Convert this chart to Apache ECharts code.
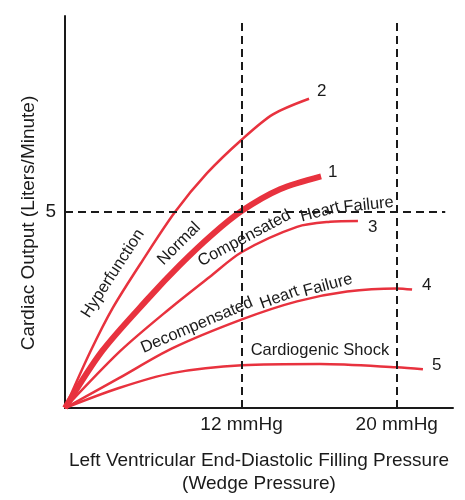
<!DOCTYPE html>
<html>
<head>
<meta charset="utf-8">
<title>Cardiac function curves</title>
<script src="https://cdn.jsdelivr.net/npm/echarts@6/dist/echarts.min.js"></script>
<style>
html, body { margin: 0; padding: 0; background: #fff; }
#chart { width: 465px; height: 500px; }
</style>
</head>
<body>
<div id="chart"></div>
<script>
// values: wedge pressure (mmHg) vs cardiac output (L/min)
const normalP = [2.9, 4.81, 7.18, 8.83, 10.48, 12.02, 13.98, 16.1];
const normalCO = [0, 1.45, 2.79, 3.65, 4.42, 5.03, 5.58, 5.91];

const hyperP = [2.9, 4.19, 5.37, 6.92, 8.57, 10.22, 12.02, 13.62, 15.48];
const hyperCO = [0, 1.42, 2.56, 3.78, 5.0, 5.99, 6.85, 7.49, 7.89];

const compP = [2.9, 5.74, 8.31, 10.37, 12.02, 14.86, 16.56, 18.0];
const compCO = [0, 1.45, 2.54, 3.35, 3.98, 4.62, 4.75, 4.77];

const decompP = [2.9, 5.68, 8.42, 12.02, 14.86, 17.44, 20.0, 20.79];
const decompCO = [0, 0.76, 1.52, 2.26, 2.72, 2.97, 3.05, 3.02];

const shockP = [2.9, 5.68, 8.42, 12.02, 16.04, 20.0, 21.35];
const shockCO = [0, 0.51, 0.89, 1.09, 1.12, 1.04, 0.99];

const pressureTicks = [12, 20];
const outputTicks = [5];
const curveNumbers = ['1', '2', '3', '4', '5'];

// words written along the curves (anchor in data units)
const labelWords = ['Hyperfunction', 'Normal', 'Compensated', 'Heart', 'Failure', 'Decompensated', 'Heart', 'Failure', 'Cardiogenic Shock'];
const labelP = [5.37, 8.78, 12.15, 16.05, 18.55, 9.7, 13.95, 16.45, 16.04];
const labelCO = [3.43, 4.19, 4.33, 5.0, 5.18, 2.11, 2.82, 3.13, 1.47];
const labelAngle = [57, 45, 28, 15, 6, 23, 20, 15, 0];

const RED = '#e8323e';
const INK = '#1a1a1a';
const FONT = '"Liberation Sans", Arial, Helvetica, sans-serif';

function pairs(p, co) {
    return p.map((x, i) => [x, co[i]]);
}

function curve(name, p, co, width, num, offset) {
    return {
        name: name,
        type: 'line',
        z: 3,
        data: pairs(p, co),
        smooth: 0.3,
        symbol: 'none',
        silent: true,
        lineStyle: { color: RED, width: width },
        endLabel: {
            show: true,
            formatter: num,
            color: INK,
            fontFamily: FONT,
            fontSize: 17,
            distance: 8,
            offset: offset
        }
    };
}

let refLines = pressureTicks.map(p => [{ coord: [p, 0] }, { coord: [p, 9.95] }]);
refLines.push([{ coord: [2.9, outputTicks[0]] }, { coord: [22.5, outputTicks[0]] }]);

let option = {
    animation: false,
    backgroundColor: '#fff',
    grid: { left: 65, right: 12, top: 16, bottom: 90 },
    xAxis: {
        type: 'value',
        min: 2.9,
        max: 22.9,
        axisLine: { show: true, lineStyle: { color: INK, width: 2 } },
        axisTick: { show: false },
        splitLine: { show: false },
        axisLabel: {
            customValues: pressureTicks,
            formatter: v => v + ' mmHg',
            color: INK,
            fontFamily: FONT,
            fontSize: 19,
            margin: 7
        },
        name: 'Left Ventricular End-Diastolic Filling Pressure\n(Wedge Pressure)',
        nameLocation: 'middle',
        nameGap: 41,
        nameMoveOverlap: false,
        nameTextStyle: { color: INK, fontFamily: FONT, fontSize: 19, lineHeight: 23 }
    },
    yAxis: {
        type: 'value',
        min: 0,
        max: 10,
        axisLine: { show: true, lineStyle: { color: INK, width: 2 } },
        axisTick: { show: false },
        splitLine: { show: false },
        axisLabel: {
            customValues: outputTicks,
            color: INK,
            fontFamily: FONT,
            fontSize: 19,
            margin: 9
        },
        name: 'Cardiac Output (Liters/Minute)',
        nameLocation: 'middle',
        nameGap: 27,
        nameMoveOverlap: false,
        nameTextStyle: { color: INK, fontFamily: FONT, fontSize: 19, padding: [0, 22, 0, 0] }
    },
    series: [
        curve('Normal', normalP, normalCO, 6, curveNumbers[0], [-1, -4]),
        curve('Hyperfunction', hyperP, hyperCO, 2.5, curveNumbers[1], [0, -7]),
        curve('Compensated Heart Failure', compP, compCO, 2.5, curveNumbers[2], [2, 6]),
        curve('Decompensated Heart Failure', decompP, decompCO, 2.5, curveNumbers[3], [2, -4]),
        curve('Cardiogenic Shock', shockP, shockCO, 2.5, curveNumbers[4], [1, -4]),
        {
            type: 'line',
            z: 1,
            data: [],
            silent: true,
            markLine: {
                silent: true,
                symbol: ['none', 'none'],
                label: { show: false },
                lineStyle: { color: INK, width: 2, type: [8, 5] },
                data: refLines
            }
        }
    ]
};

let chart = echarts.init(document.getElementById('chart'));
chart.setOption(option);

// curve names along each curve; white box hides the dashed guides behind the words
let texts = labelWords.map((w, i) => {
    let pt = chart.convertToPixel({ gridIndex: 0 }, [labelP[i], labelCO[i]]);
    return {
        type: 'text',
        x: pt[0],
        y: pt[1],
        rotation: labelAngle[i] * Math.PI / 180,
        z: 2,
        silent: true,
        style: {
            text: w,
            x: 0,
            y: 0,
            align: 'center',
            verticalAlign: 'middle',
            fill: INK,
            font: '16.5px ' + FONT,
            backgroundColor: '#fff',
            padding: [1, 4]
        }
    };
});
chart.setOption({ graphic: texts });
</script>
</body>
</html>
